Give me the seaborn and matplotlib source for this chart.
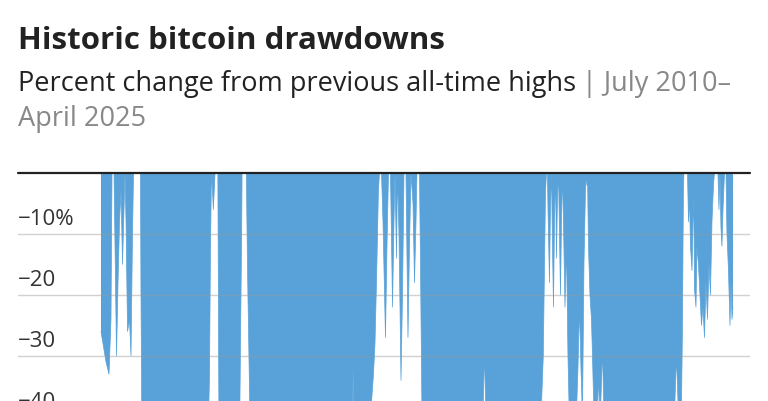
import matplotlib
matplotlib.use('Agg')
import matplotlib.pyplot as plt
import seaborn as sns

# decimal year of each reading and the drop from the previous all-time high (%)
years = [
    2010.519, 2010.566, 2010.636, 2010.706, 2010.752, 2010.776, 2010.823, 2010.846,
    2010.881, 2010.916, 2010.951, 2010.986, 2011.021, 2011.056, 2011.079, 2011.103,
    2011.138, 2011.184, 2011.219, 2011.254, 2011.278, 2011.440, 2011.452, 2011.475,
    2011.55, 2011.65, 2011.75, 2011.88, 2012.00, 2012.15, 2012.30, 2012.45,
    2012.60, 2012.75, 2012.90, 2013.015, 2013.05, 2013.07, 2013.09, 2013.10,
    2013.14, 2013.18, 2013.245, 2013.26, 2013.28, 2013.32, 2013.40, 2013.50,
    2013.60, 2013.70, 2013.75, 2013.77, 2013.80, 2013.81, 2013.91, 2013.935,
    2013.97, 2014.005, 2014.10, 2014.20, 2014.35, 2014.45, 2014.60, 2014.75,
    2014.90, 2015.04, 2015.20, 2015.40, 2015.60, 2015.80, 2015.92, 2016.00,
    2016.20, 2016.35, 2016.38, 2016.40, 2016.42, 2016.55, 2016.70, 2016.78,
    2016.83, 2016.875, 2016.91, 2016.945, 2016.97, 2016.99, 2017.015, 2017.062,
    2017.097, 2017.155, 2017.190, 2017.225, 2017.272, 2017.319, 2017.353, 2017.377,
    2017.412, 2017.435, 2017.470, 2017.517, 2017.552, 2017.587, 2017.633, 2017.680,
    2017.715, 2017.750, 2017.797, 2017.832, 2017.867, 2017.890, 2017.948, 2017.972,
    2018.007, 2018.10, 2018.25, 2018.40, 2018.50, 2018.60, 2018.75, 2018.96,
    2019.10, 2019.30, 2019.42, 2019.43, 2019.465, 2019.50, 2019.60, 2019.80,
    2020.00, 2020.20, 2020.35, 2020.50, 2020.65, 2020.75, 2020.794, 2020.836,
    2020.864, 2020.888, 2020.911, 2020.934, 2020.946, 2020.981, 2021.004, 2021.027,
    2021.051, 2021.074, 2021.097, 2021.121, 2021.144, 2021.167, 2021.191, 2021.214,
    2021.237, 2021.261, 2021.284, 2021.307, 2021.342, 2021.377, 2021.412, 2021.459,
    2021.529, 2021.599, 2021.645, 2021.680, 2021.715, 2021.750, 2021.785, 2021.820,
    2021.844, 2021.856, 2021.867, 2021.890, 2021.925, 2021.960, 2021.984, 2022.019,
    2022.065, 2022.124, 2022.159, 2022.217, 2022.252, 2022.35, 2022.45, 2022.60,
    2022.75, 2022.87, 2023.00, 2023.15, 2023.30, 2023.50, 2023.65, 2023.80,
    2023.885, 2023.943, 2023.990, 2024.060, 2024.083, 2024.095, 2024.107, 2024.118,
    2024.200, 2024.223, 2024.247, 2024.270, 2024.305, 2024.328, 2024.347, 2024.363,
    2024.398, 2024.421, 2024.456, 2024.491, 2024.526, 2024.561, 2024.596, 2024.631,
    2024.666, 2024.701, 2024.736, 2024.771, 2024.806, 2024.829, 2024.911, 2024.934,
    2024.958, 2024.981, 2025.004, 2025.028, 2025.063, 2025.098, 2025.121, 2025.156,
    2025.191, 2025.214, 2025.238, 2025.261,
]
drawdown = [
    -26, -28, -31, -33, -24, 0, 0, -12,
    -30, -18, -8, -3, -15, -6, 0, -8,
    -26, -24, -30, -10, 0, 0, -20, -45,
    -50, -70, -85, -93, -84, -85, -84, -80,
    -65, -62, -60, -45, -33, -15, -3, 0,
    -6, 0, 0, -25, -55, -70, -55, -60,
    -55, -48, -45, -30, -10, 0, 0, -15,
    -30, -45, -50, -55, -60, -45, -50, -70,
    -68, -85, -78, -80, -75, -72, -60, -62,
    -63, -55, -45, -32, -45, -43, -42, -40,
    -37.5, -33, -28, -18, -10, -3, 0, 0,
    -8, -27, -12, 0, 0, -22, -8, 0,
    -14, 0, -10, -34, -20, 0, 0, -27,
    -12, 0, -5, -18, -8, 0, 0, -15,
    -40, -60, -65, -55, -68, -65, -67, -84,
    -82, -70, -55, -40, -29, -42, -50, -60,
    -62, -80, -55, -52, -48, -45, -38, -30,
    -15, -3, 0, 0, -6, -18, -5, 0,
    -12, -22, -8, 0, -14, -4, 0, -10,
    -20, -8, 0, -8, -22, -12, -30, -45,
    -52, -42, -32, -22, -32, -40, -15, -3,
    0, -2, 0, -12, -20, -24, -30, -40,
    -48, -33, -42, -29, -40, -55, -70, -68,
    -72, -77, -75, -65, -58, -55, -62, -50,
    -42, -30, -40, -38, -25, -12, -2, 0,
    0, -8, -4, -12, -16, -8, -4, -19,
    -22, -12, -15, -20, -25, -22, -27, -18,
    -24, -15, -20, -8, -2, 0, 0, -6,
    0, -9, -12, -6, 0, 0, -10, -16,
    -25, -18, -24, -22,
]

grid_levels = [-10, -20, -30, -40]
grid_labels = ['\u221210%', '\u221220', '\u221230', '\u221240']

title = 'Historic bitcoin drawdowns'
subtitle = 'Percent change from previous all-time highs'
period_1 = '| July 2010\u2013'
period_2 = 'April 2025'

blue = '#58a2d9'

sns.set_theme(style='white')
plt.rcParams['font.family'] = ['Open Sans', 'DejaVu Sans']

fig = plt.figure(figsize=(7.68, 4.02), dpi=100)
ax = fig.add_axes([18 / 768, 0, 732 / 768, 228 / 402])

ax.fill_between(years, drawdown, 0, color=blue, linewidth=0, zorder=2)
sns.lineplot(x=years, y=drawdown, ax=ax, color=blue, linewidth=0.5, zorder=2)

for lvl, lab in zip(grid_levels, grid_labels):
    ax.axhline(lvl, color='#999999', alpha=0.45, lw=1, zorder=3)
    ax.annotate(lab, xy=(0, lvl), xycoords=ax.get_yaxis_transform(),
                xytext=(0, 10), textcoords='offset pixels', ha='left', va='baseline',
                fontsize=16, color='#333333', annotation_clip=False)
ax.axhline(0, color='#222222', lw=1.6, zorder=4, clip_on=False)

ax.set_xlim(2008.583, 2025.658)
ax.set_ylim(-37.4, 0)
ax.axis('off')

fig.text(18 / 768, 1 - 49 / 402, title, fontsize=22.5, fontweight='bold',
         color='#222222', va='baseline')
sub = fig.text(18 / 768, 1 - 91 / 402, subtitle, fontsize=19.5,
               color='#222222', va='baseline')
fig.canvas.draw()
bb = sub.get_window_extent()
fig.text((bb.x1 + 6) / 768, 1 - 91 / 402, period_1, fontsize=19.5,
         color='#888888', va='baseline')
fig.text(18 / 768, 1 - 126 / 402, period_2, fontsize=19.5,
         color='#888888', va='baseline')

fig.savefig('out.png', dpi=100)
